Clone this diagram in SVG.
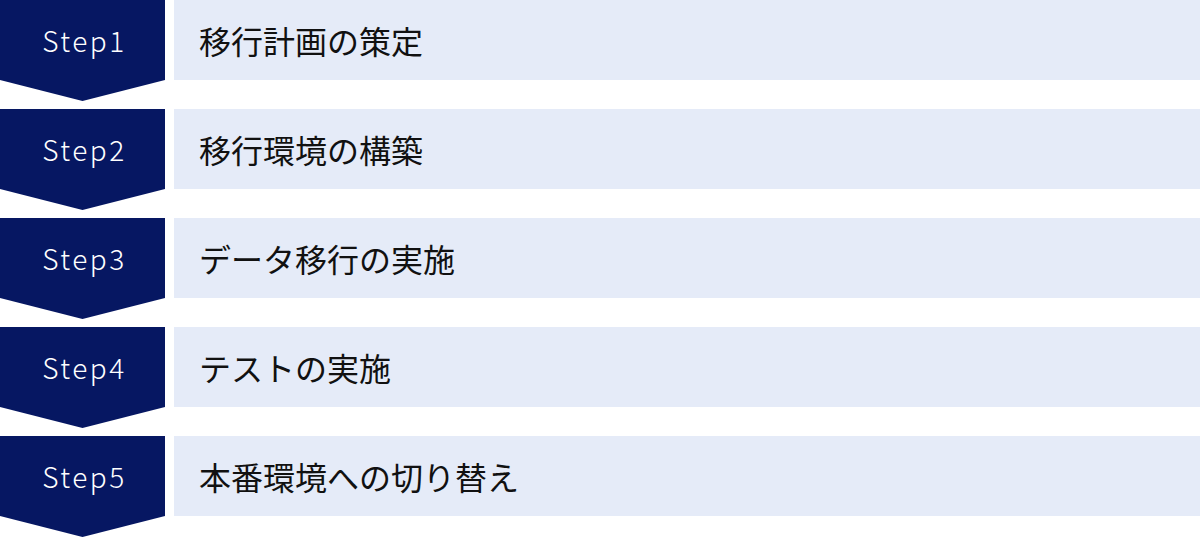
<svg xmlns="http://www.w3.org/2000/svg" width="1200" height="538" viewBox="0 0 1200 538">
<defs>
<style>
.chev{fill:#061762;}
.bar{fill:#e5ebf8;}
.step{font-family:"Noto Sans CJK JP","Noto Sans",sans-serif;font-size:28px;font-weight:300;fill:#ffffff;text-anchor:middle;letter-spacing:2.5px;}
.lbl{font-family:"Noto Sans CJK JP","Noto Sans",sans-serif;font-size:32px;font-weight:400;fill:#111111;}
</style>
<path id="chevShape" d="M0 0 H165 V80 L82.5 101 L0 80 Z"/>
</defs>
<rect width="1200" height="538" fill="#ffffff"/>
<g id="step1">
<use href="#chevShape" class="chev" y="0"/>
<rect class="bar" x="174" y="0" width="1026" height="80"/>
<text class="step" x="84.5" y="51.5">Step1</text>
<text class="lbl" x="199" y="53.5">移行計画の策定</text>
</g>
<g id="step2">
<use href="#chevShape" class="chev" y="109"/>
<rect class="bar" x="174" y="109" width="1026" height="80"/>
<text class="step" x="84.5" y="160.5">Step2</text>
<text class="lbl" x="199" y="162.5">移行環境の構築</text>
</g>
<g id="step3">
<use href="#chevShape" class="chev" y="218"/>
<rect class="bar" x="174" y="218" width="1026" height="80"/>
<text class="step" x="84.5" y="269.5">Step3</text>
<text class="lbl" x="199" y="271.5">データ移行の実施</text>
</g>
<g id="step4">
<use href="#chevShape" class="chev" y="327"/>
<rect class="bar" x="174" y="327" width="1026" height="80"/>
<text class="step" x="84.5" y="378.5">Step4</text>
<text class="lbl" x="199" y="380.5">テストの実施</text>
</g>
<g id="step5">
<use href="#chevShape" class="chev" y="436"/>
<rect class="bar" x="174" y="436" width="1026" height="80"/>
<text class="step" x="84.5" y="487.5">Step5</text>
<text class="lbl" x="199" y="489.5">本番環境への切り替え</text>
</g>
<g id="connectors"></g>
</svg>
